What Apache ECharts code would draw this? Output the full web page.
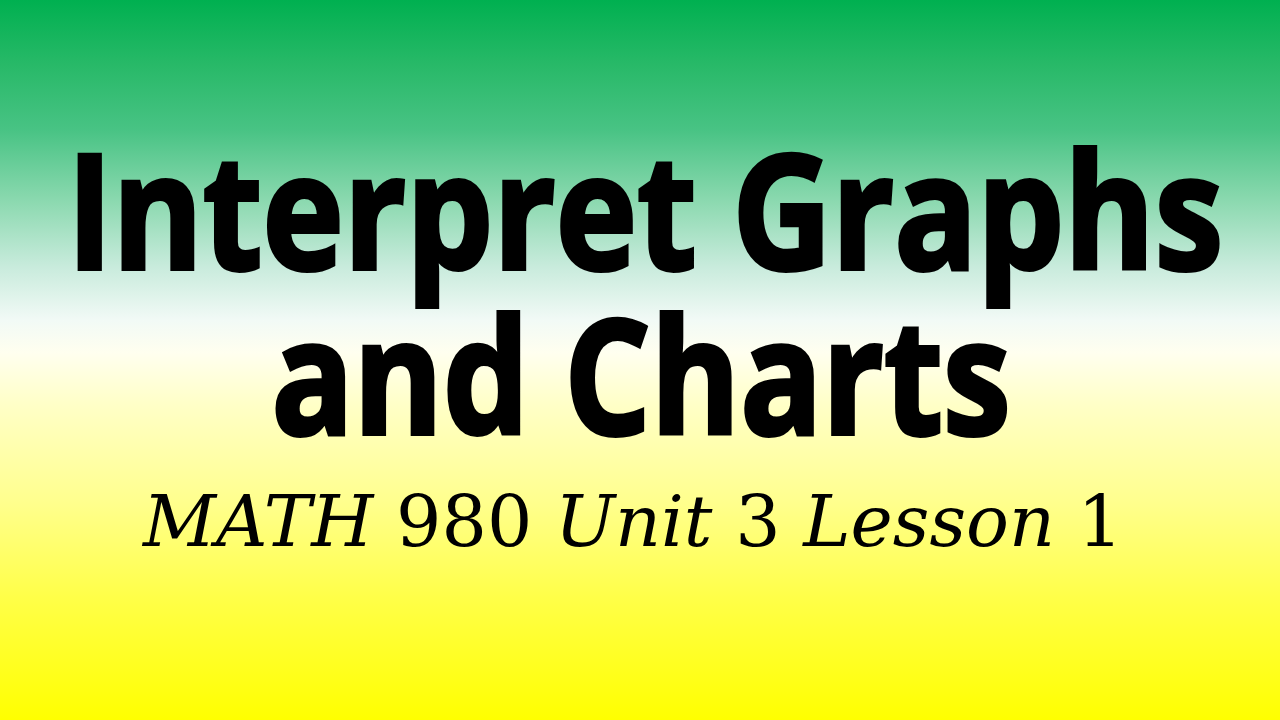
<!DOCTYPE html>
<html>
<head>
<meta charset="utf-8">
<script src="https://cdn.jsdelivr.net/npm/echarts@6/dist/echarts.min.js"></script>
<style>
html,body{margin:0;padding:0;width:1280px;height:720px;overflow:hidden;}
#chart{width:1280px;height:720px;}
</style>
</head>
<body>
<div id="chart"></div>
<script>
// Content
var titleLines = ['Interpret Graphs', 'and Charts'];
var subtitleParts = [
  { text: 'MATH ', style: 'i' },
  { text: '980 ', style: 'n' },
  { text: 'Unit ', style: 'i' },
  { text: '3 ', style: 'n' },
  { text: 'Lesson ', style: 'i' },
  { text: '1', style: 'n' }
];
// Background gradient stops (offset, colour)
var bgStops = [
  [0.00, '#00b050'],
  [0.09, '#28b968'],
  [0.18, '#48c384'],
  [0.28, '#8cd9b0'],
  [0.37, '#c8ebdc'],
  [0.445, '#f2faf6'],
  [0.49, '#ffffef'],
  [0.56, '#ffffc8'],
  [0.70, '#ffff8c'],
  [0.83, '#ffff48'],
  [1.00, '#ffff00']
];

var TITLE_FONT = '"Open Sans", "Noto Sans", sans-serif';
var SUB_FONT = '"DejaVu Serif", "Liberation Serif", serif';
var titleSize = 160;
var titleStroke = 4;
var subSize = 71;

var ctx = document.createElement('canvas').getContext('2d');
function measure(text, font) { ctx.font = font; return ctx.measureText(text).width; }

var titleTargets = [
  { width: 1160, cx: 645, y: 223.5 },
  { width: 743, cx: 641, y: 388.5 }
];
var subTarget = { width: 980, cx: 633, y: 528 };

var elements = [];
elements.push({
  type: 'rect', left: 0, top: 0, z: 0,
  shape: { width: 1280, height: 720 },
  style: {
    fill: new echarts.graphic.LinearGradient(0, 0, 0, 1,
      bgStops.map(function (s) { return { offset: s[0], color: s[1] }; }))
  }
});

titleLines.forEach(function (line, i) {
  var w = measure(line, '700 ' + titleSize + 'px ' + TITLE_FONT);
  var t = titleTargets[i];
  elements.push({
    type: 'text', x: t.cx, y: t.y, scaleX: (t.width - titleStroke) / w, z: 2,
    style: {
      text: line, fill: '#000', stroke: '#000', lineWidth: titleStroke,
      textAlign: 'center', textVerticalAlign: 'middle',
      font: '700 ' + titleSize + 'px ' + TITLE_FONT
    }
  });
});

var subW = 0;
subtitleParts.forEach(function (p) {
  subW += measure(p.text, (p.style === 'i' ? 'italic ' : '') + '400 ' + subSize + 'px ' + SUB_FONT);
});
var richText = subtitleParts.map(function (p) { return '{' + p.style + '|' + p.text + '}'; }).join('');
elements.push({
  type: 'text', x: subTarget.cx, y: subTarget.y, scaleX: subTarget.width / subW, z: 2,
  style: {
    text: richText, fill: '#000', textAlign: 'center', textVerticalAlign: 'middle',
    fontFamily: SUB_FONT, fontSize: subSize,
    rich: {
      i: { fontStyle: 'italic', fontFamily: SUB_FONT, fontSize: subSize, fill: '#000', color: '#000' },
      n: { fontStyle: 'normal', fontFamily: SUB_FONT, fontSize: subSize, fill: '#000', color: '#000' }
    }
  }
});

var chart = echarts.init(document.getElementById('chart'));
chart.setOption({ animation: false, graphic: { elements: elements } });
</script>
</body>
</html>
